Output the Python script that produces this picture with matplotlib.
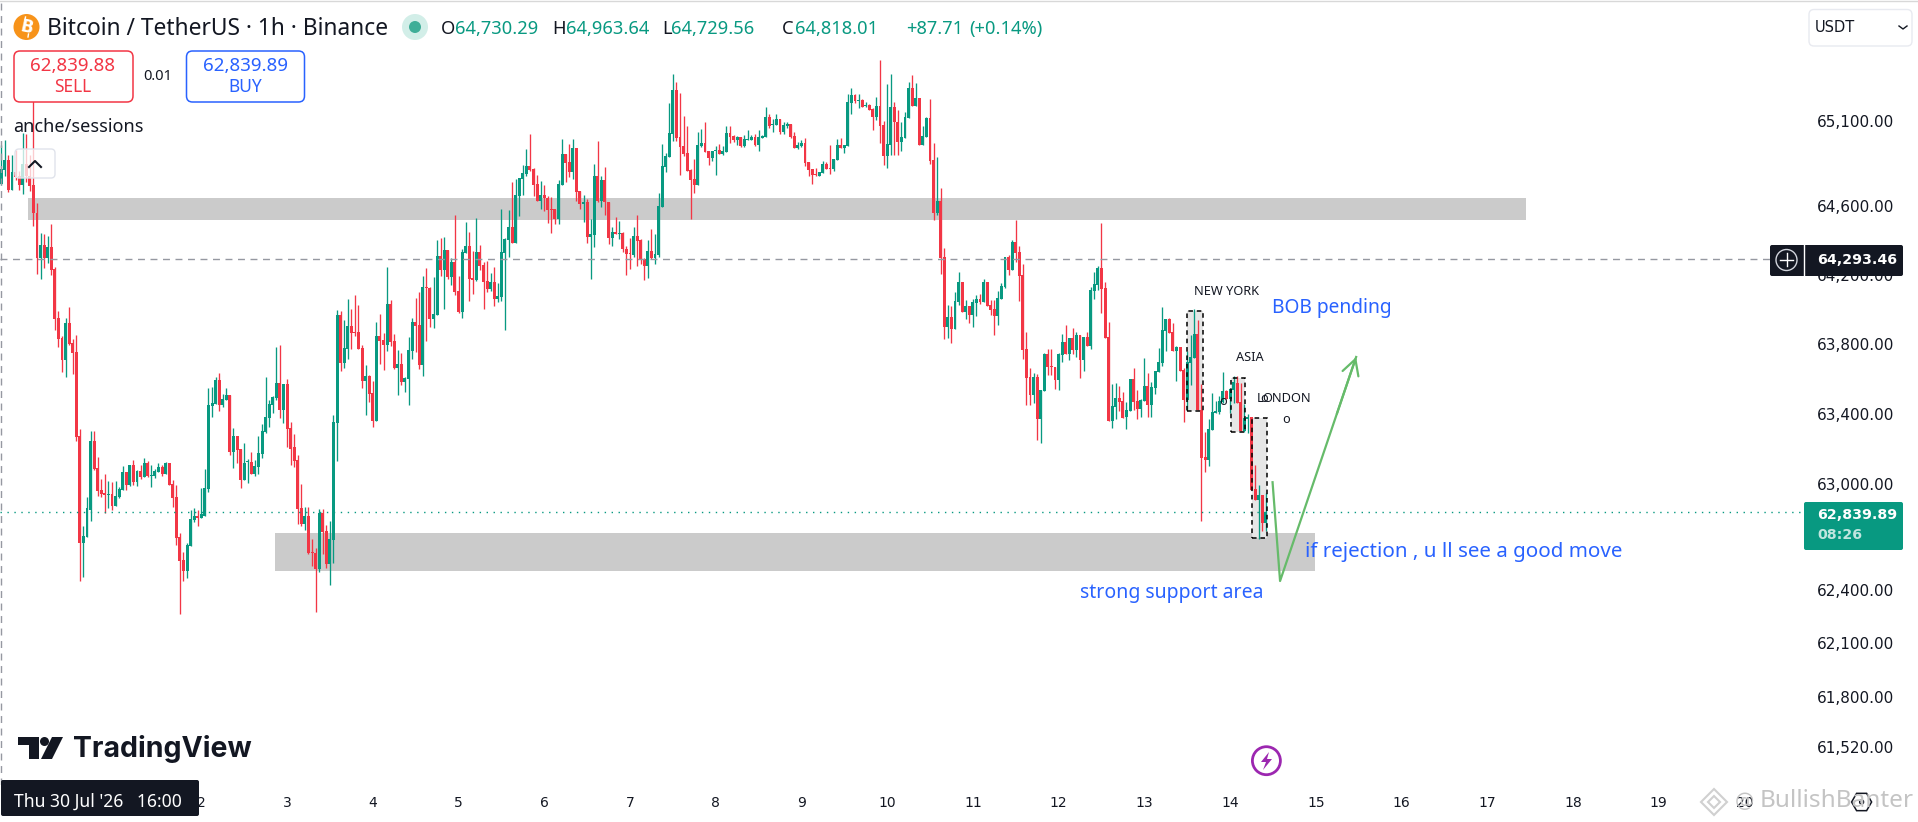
import numpy as np
import matplotlib
matplotlib.use('Agg')
import matplotlib.pyplot as plt
from matplotlib.patches import Rectangle, FancyBboxPatch, Circle, Polygon, RegularPolygon
from matplotlib.ticker import NullLocator

# hourly candles
opens = [
    64729, 64811, 64869, 64696, 64796, 64773, 64725, 64846, 64777, 64725, 64561, 64296, 64373, 64296, 64361, 64234, 63952, 63836, 63709, 63923,
    63807, 63756, 63271, 62665, 62700, 62855, 63242, 63092, 62965, 62948, 62936, 62942, 62873, 62925, 62965, 63069, 62994, 63109, 63011, 63075,
    63040, 63121, 63046, 63046, 63069, 63098, 63057, 63121, 63000, 62925, 62700, 62567, 62509, 62648, 62798, 62821, 62809, 62821, 62971, 63444,
    63456, 63594, 63450, 63479, 63507, 63184, 63271,
    63202, 63025, 63123, 63127, 63058, 63098, 63173, 63294, 63375, 63450, 63490, 63577, 63421, 63571, 63317, 63208, 63138, 62861, 62775, 62821,
    62613, 62608, 62521, 62833, 62735, 62544, 62683, 63346, 63969, 63692, 63773, 63906, 63871, 63871, 63779, 63588, 63617, 63519, 63358, 63848,
    63825, 63796, 64033, 63819, 63663, 63686, 63583, 63600, 63761, 63929, 63911, 63681, 64131, 64125, 63946, 63969, 64309, 64229, 64344, 64188,
    64275, 64108, 63986, 64327,
    64367, 64183, 64171, 64333, 64258, 64166, 64119, 64160, 64062, 64073, 64327, 64402, 64477, 64385, 64656, 64760, 64789, 64835, 64817, 64731,
    64627, 64662, 64644, 64581, 64581, 64523, 64725, 64904, 64858, 64800, 64939, 64685, 64610, 64621, 64419, 64431, 64777, 64627, 64754, 64621,
    64414, 64448, 64437, 64442, 64350, 64327, 64316, 64425, 64402, 64292, 64252, 64339, 64298, 64316, 64592, 64829, 64887, 65019, 65279, 65002,
    64950, 64910, 64812, 64760, 64725, 64950, 64967, 64921, 64881, 64921, 64927, 64904, 64916, 65025, 65008, 64985, 65002, 64950, 64985, 64985,
    65002, 64956, 64996, 65002, 65123, 65071, 65071, 65112, 65031, 65066, 65077, 65008, 64939, 64950, 64967, 64858, 64817, 64789, 64777, 64794,
    64846, 64823, 64817, 64869, 64956, 64939, 64950, 65204, 65250, 65216, 65221, 65187, 65192, 65169, 65123, 65187, 65071, 64892, 64956, 65181,
    65094, 64973, 64996, 65117, 65291, 65187, 65233, 64956, 65002, 65117, 64869, 64558, 64627, 64304, 63900,
    63958, 63888, 64044, 64160, 63986, 64021, 63969, 64038, 64061, 64044, 64160, 64027, 64004, 63963, 64061, 64131, 64304, 64229, 64390, 64333,
    64200, 63773, 63611, 63508, 63611, 63369, 63531, 63744, 63675, 63669, 63594, 63738, 63813, 63744, 63837, 63767, 63854, 63710, 63842, 63790,
    64108, 64142, 64240, 64125, 63842, 63358, 63438, 63490, 63473, 63381, 63415, 63600, 63473, 63427, 63473, 63560, 63450, 63548, 63640, 63692,
    63877,
    63946, 63871, 63762, 63785, 63652, 63479, 63692, 63721, 63860, 63421, 63156, 63139, 63306, 63404, 63410, 63467, 63531, 63485, 63537, 63577,
    63467, 63300, 63369, 63381, 62971, 62908, 62937, 62781,
]
closes = [
    64815, 64869, 64696, 64796, 64769, 64725, 64846, 64773, 64719, 64557, 64296, 64373, 64296, 64361, 64229, 63946, 63831, 63709, 63923, 63802,
    63750, 63265, 62665, 62706, 62861, 63242, 63086, 62959, 62942, 62936, 62942, 62873, 62931, 62971, 63069, 62994, 63109, 63011, 63075, 63040,
    63121, 63046, 63052, 63075, 63098, 63057, 63121, 62994, 62919, 62694, 62561, 62509, 62654, 62804, 62821, 62809, 62827, 62977, 63450, 63461,
    63594, 63450, 63484, 63507, 63184, 63271, 63196,
    63023, 63119, 63129, 63058, 63104, 63179, 63300, 63381, 63456, 63496, 63577, 63421, 63571, 63311, 63202, 63133, 62856, 62775, 62821, 62608,
    62608, 62521, 62833, 62729, 62544, 62688, 63352, 63969, 63692, 63779, 63906, 63865, 63865, 63773, 63588, 63617, 63513, 63358, 63848, 63819,
    63796, 64033, 63813, 63663, 63686, 63583, 63606, 63767, 63929, 63906, 63681, 64131, 64125, 63946, 63975, 64309, 64229, 64344, 64188, 64275,
    64102, 63986, 64333, 64367,
    64177, 64171, 64333, 64252, 64160, 64119, 64160, 64062, 64079, 64333, 64408, 64477, 64385, 64662, 64766, 64794, 64835, 64812, 64725, 64627,
    64662, 64644, 64575, 64575, 64523, 64731, 64904, 64852, 64800, 64939, 64679, 64610, 64621, 64419, 64437, 64777, 64627, 64754, 64621, 64414,
    64448, 64437, 64442, 64350, 64321, 64321, 64425, 64396, 64292, 64252, 64339, 64298, 64321, 64598, 64835, 64892, 65025, 65279, 64996, 64944,
    64904, 64806, 64754, 64725, 64956, 64967, 64916, 64881, 64921, 64927, 64904, 64921, 65025, 65002, 64985, 65002, 64950, 64991, 64991, 65002,
    64956, 65002, 65008, 65123, 65066, 65077, 65112, 65031, 65071, 65077, 65002, 64939, 64956, 64967, 64852, 64812, 64783, 64783, 64800, 64846,
    64817, 64817, 64875, 64956, 64939, 64956, 65210, 65250, 65216, 65221, 65181, 65192, 65164, 65123, 65187, 65066, 64892, 64962, 65181, 65089,
    64973, 65002, 65123, 65291, 65187, 65233, 64956, 65008, 65117, 64864, 64558, 64627, 64298, 63900, 63958,
    63888, 64050, 64160, 63986, 64021, 63969, 64044, 64061, 64044, 64160, 64021, 63998, 63963, 64067, 64136, 64304, 64229, 64390, 64327, 64194,
    63767, 63606, 63508, 63611, 63369, 63536, 63744, 63669, 63669, 63594, 63744, 63813, 63744, 63837, 63767, 63854, 63710, 63842, 63790, 64113,
    64148, 64240, 64119, 63837, 63358, 63444, 63490, 63467, 63375, 63421, 63600, 63467, 63427, 63479, 63560, 63450, 63554, 63646, 63698, 63883,
    63946,
    63865, 63762, 63785, 63646, 63479, 63698, 63727, 63860, 63421, 63150, 63139, 63312, 63410, 63416, 63473, 63531, 63485, 63542, 63583, 63462,
    63300, 63375, 63381, 62966, 62908, 62937, 62781, 62840,
]
highs = [
    64955, 64984, 64898, 64898, 64930, 64802, 65025, 65023, 64898, 65215, 64615, 64442, 64436, 64425, 64494, 64246, 63992, 63848, 63952, 64015,
    63831, 63854, 63311, 62763, 62925, 63300, 63300, 63156, 63029, 63057, 63017, 63011, 63017, 62982, 63104, 63069, 63109, 63138, 63081, 63109,
    63150, 63132, 63109, 63086, 63121, 63109, 63127, 63121, 63023, 62994, 62723, 62613, 62665, 62855, 62861, 62855, 62977, 63086, 63548, 63554,
    63611, 63634, 63513, 63548, 63507, 63317, 63271,
    63202, 63231, 63142, 63184, 63138, 63271, 63340, 63611, 63479, 63502, 63784, 63796, 63571, 63600, 63352, 63283, 63167, 63000, 62867, 62867,
    62688, 62636, 62856, 62856, 62769, 62792, 63392, 63998, 63992, 63940, 64061, 64004, 64084, 64027, 63796, 63681, 63623, 63588, 63929, 63975,
    63865, 64246, 64056, 63859, 63767, 63750, 63611, 63842, 63952, 64067, 64102, 64194, 64240, 64131, 64188, 64402, 64413, 64419, 64344, 64298,
    64546, 64194, 64350, 64506,
    64448, 64338, 64529, 64373, 64275, 64281, 64212, 64246, 64154, 64581, 64414, 64575, 64743, 64760, 64766, 64841, 64933, 65019, 64823, 64783,
    64748, 64725, 64656, 64650, 64581, 64754, 64991, 64904, 64962, 64991, 64939, 64685, 64662, 64639, 64523, 64846, 64979, 64777, 64829, 64621,
    64477, 64535, 64512, 64448, 64367, 64414, 64477, 64546, 64408, 64298, 64402, 64466, 64437, 64673, 64962, 64910, 65204, 65377, 65325, 65262,
    65129, 65066, 64817, 64875, 65031, 65048, 65094, 64921, 64921, 64950, 64962, 64950, 65066, 65066, 65014, 65008, 65002, 65014, 65042, 65014,
    65019, 65042, 65014, 65181, 65141, 65112, 65141, 65112, 65089, 65094, 65077, 65031, 64973, 64985, 64996, 64858, 64817, 64823, 64800, 64864,
    64858, 64956, 64875, 64991, 64996, 64956, 65256, 65291, 65256, 65256, 65227, 65210, 65198, 65175, 65239, 65458, 65100, 65314, 65377, 65210,
    65164, 65094, 65152, 65325, 65366, 65319, 65233, 65066, 65123, 65227, 64967, 64887, 64708, 64356, 64027,
    64021, 64102, 64217, 64160, 64056, 64021, 64061, 64085, 64090, 64177, 64160, 64056, 64056, 64108, 64154, 64304, 64315, 64402, 64517, 64367,
    64263, 63871, 63663, 63635, 63629, 63536, 63750, 63773, 63773, 63669, 63750, 63860, 63911, 63837, 63894, 63871, 63854, 63842, 63871, 64131,
    64217, 64252, 64500, 64160, 63929, 63571, 63577, 63560, 63525, 63467, 63600, 63663, 63536, 63485, 63721, 63635, 63583, 63646, 63779, 64015,
    63946,
    63952, 63923, 63790, 63785, 63664, 63762, 63854, 64004, 63940, 63571, 63294, 63369, 63519, 63473, 63502, 63640, 63537, 63548, 63617, 63617,
    63577, 63456, 63398, 63381, 63110, 62994, 62937, 62948,
]
lows = [
    64725, 64773, 64684, 64696, 64750, 64696, 64669, 64738, 64690, 64484, 64205, 64177, 64240, 64269, 64200, 63882, 63784, 63640, 63611, 63796,
    63629, 63242, 62452, 62475, 62700, 62792, 63081, 62931, 62925, 62838, 62861, 62855, 62873, 62919, 62965, 62965, 62988, 62994, 62988, 63029,
    63040, 63040, 62982, 63034, 63069, 63046, 63057, 62994, 62867, 62654, 62267, 62452, 62469, 62648, 62786, 62763, 62809, 62821, 62954, 63380,
    63456, 63415, 63438, 63479, 63167, 63092, 63121,
    62979, 63023, 63006, 63058, 63048, 63058, 63150, 63288, 63323, 63404, 63479, 63375, 63346, 63208, 63110, 63098, 62775, 62763, 62740, 62602,
    62538, 62279, 62504, 62602, 62527, 62429, 62550, 63133, 63646, 63663, 63715, 63773, 63848, 63773, 63548, 63392, 63467, 63323, 63358, 63686,
    63652, 63761, 63790, 63658, 63508, 63565, 63525, 63450, 63715, 63756, 63658, 63617, 63819, 63900, 63894, 63969, 64194, 64004, 64177, 64142,
    64084, 63981, 63952, 64327,
    64050, 64091, 64166, 64229, 64000, 64102, 64108, 64021, 64044, 64050, 63883, 64304, 64385, 64385, 64541, 64667, 64777, 64806, 64656, 64627,
    64581, 64569, 64500, 64443, 64494, 64494, 64725, 64742, 64771, 64760, 64627, 64581, 64506, 64385, 64177, 64362, 64621, 64592, 64546, 64379,
    64367, 64437, 64408, 64333, 64200, 64235, 64304, 64252, 64264, 64171, 64183, 64292, 64264, 64304, 64592, 64800, 64887, 64979, 64979, 64783,
    64892, 64806, 64523, 64673, 64725, 64944, 64916, 64841, 64864, 64783, 64904, 64898, 64916, 64967, 64973, 64956, 64944, 64944, 64985, 64985,
    64950, 64921, 64996, 65002, 65054, 65031, 65071, 65019, 65019, 65054, 64996, 64939, 64933, 64944, 64835, 64777, 64731, 64777, 64777, 64794,
    64817, 64789, 64806, 64869, 64939, 64910, 64950, 65141, 65204, 65175, 65181, 65181, 65164, 65042, 65106, 64967, 64841, 64823, 64898, 64898,
    64898, 64921, 64996, 65117, 65187, 65187, 64956, 64956, 65002, 64846, 64517, 64546, 64206, 63831, 63837,
    63808, 63888, 64027, 63986, 63946, 63923, 63900, 63963, 64033, 64044, 64021, 63969, 63854, 63911, 64061, 64125, 64200, 64229, 64275, 64050,
    63715, 63450, 63450, 63461, 63248, 63236, 63531, 63623, 63623, 63542, 63536, 63698, 63744, 63710, 63744, 63727, 63606, 63646, 63790, 63773,
    64061, 64113, 63981, 63837, 63358, 63317, 63369, 63415, 63375, 63311, 63415, 63421, 63369, 63381, 63473, 63381, 63381, 63513, 63640, 63675,
    63761,
    63865, 63762, 63589, 63646, 63352, 63421, 63565, 63721, 63421, 62792, 63069, 63104, 63306, 63404, 63398, 63462, 63485, 63404, 63462, 63462,
    63300, 63294, 63289, 62966, 62908, 62689, 62735, 62735,
]

day_labels = [str(d) for d in range(2, 21)]
day_positions = [56 + 24 * k for k in range(len(day_labels))]
price_ticks = [65100, 64600, 64200, 63800, 63400, 63000, 62400, 62100, 61800, 61520]
crosshair_price = 64293.46
last_price = 62839.89

up_col = '#089981'
down_col = '#f23645'
blue = '#2962ff'
ink = '#131722'

plt.rcParams['font.family'] = ['DejaVu Sans']

fig = plt.figure(figsize=(19.18, 8.22), dpi=100)
ax = fig.add_axes([0, 37 / 822, 1808 / 1918, 785 / 822])
ax.set_yscale('log')
ax.set_ylim(61312, 65812)
ax.set_xlim(-0.364, 505.8)

idx = np.arange(len(opens))
o = np.array(opens, dtype=float)
c = np.array(closes, dtype=float)
colors = [up_col if a >= b else down_col for a, b in zip(c, o)]

# zones under the candles
ax.add_patch(Rectangle((7.47, 64518), 419.3, 129, color='#cbcbcb', lw=0, zorder=1))
ax.add_patch(Rectangle((76.6, 62507), 291.2, 215, color='#cbcbcb', lw=0, zorder=1))

sessions = [(332.0, 336.3, 63416, 63993), (344.2, 348.1, 63296, 63607), (350.2, 354.3, 62694, 63375)]
for x0, x1, lo, hi in sessions:
    ax.add_patch(Rectangle((x0, lo), x1 - x0, hi - lo, facecolor='#e6e6e6', lw=0, zorder=1.5))

ax.vlines(idx, lows, highs, colors=colors, lw=0.95, zorder=3)
ax.bar(idx, np.abs(c - o), bottom=np.minimum(o, c), width=0.82, color=colors, lw=0, zorder=3.2)

for x0, x1, lo, hi in sessions:
    ax.add_patch(Rectangle((x0, lo), x1 - x0, hi - lo, fill=False, ec='black', lw=1.1, ls=(0, (3, 2.5)), zorder=4))

ax.axhline(crosshair_price, xmax=1770 / 1808, color='#9598a1', lw=1, ls=(0, (5, 4)), zorder=3.5)
ax.axhline(last_price, color=up_col, lw=1, ls=(0, (1, 4)), zorder=3.5)
ax.axvline(0.0, color='#9598a1', lw=1, ls=(0, (5, 4)), zorder=3.5)

# hand drawn move
ax.plot([355.9, 358.0, 379.3], [63010, 62451, 63726], color='#66bb6a', lw=1.6, zorder=5)
ax.annotate('', xy=(379.3, 63726), xytext=(373.9, 63400),
            arrowprops=dict(arrowstyle='->,head_length=0.55,head_width=0.3', color='#66bb6a', lw=1.6,
                            mutation_scale=20, shrinkA=0, shrinkB=0), zorder=5)

for s in ax.spines.values():
    s.set_visible(False)
ax.yaxis.tick_right()
ax.set_yticks(price_ticks, [f'{p:,.2f}' for p in price_ticks])
ax.yaxis.set_minor_locator(NullLocator())
ax.set_xticks(day_positions, day_labels)
ax.tick_params(axis='y', length=0, pad=6.5, labelsize=11, labelcolor=ink)
ax.tick_params(axis='x', length=0, pad=8, labelsize=10, labelcolor=ink)

# everything else sits on a pixel overlay
ui = fig.add_axes([0, 0, 1, 1], zorder=10)
ui.set_xlim(0, 1918)
ui.set_ylim(822, 0)
ui.axis('off')
ui.patch.set_alpha(0)

ui.plot([0, 1918], [1, 1], color='#d8d8d8', lw=1)

# header
ui.add_patch(Circle((26.5, 27), 13, color='#f7931a', lw=0))
ui.text(26.5, 27, 'B', color='white', fontsize=12, fontweight='bold', rotation=-12, ha='center', va='center')
ui.plot([25.5, 25], [17, 20], color='white', lw=1)
ui.plot([28.5, 28], [34, 37], color='white', lw=1)
ui.text(47, 29, 'Bitcoin / TetherUS \u00b7 1h \u00b7 Binance', color=ink, fontsize=16.4, family='Noto Sans', va='center')
ui.add_patch(Circle((415, 27), 13, color='#d2eee8', lw=0))
ui.add_patch(Circle((415, 27), 6, color='#3fae98', lw=0))

header_bits = [(441, 'O', ink), (455, '64,730.29', up_col), (552, 'H', ink), (566, '64,963.64', up_col),
               (662, 'L', ink), (671, '64,729.56', up_col), (782, 'C', ink), (795, '64,818.01', up_col),
               (906, '+87.71', up_col), (969, '(+0.14%)', up_col)]
for x, s, col in header_bits:
    ui.text(x, 29, s, color=col, fontsize=13.2, family='Noto Sans', va='center')

# sell / buy
ui.add_patch(FancyBboxPatch((14, 51), 119, 51, boxstyle='round,pad=0,rounding_size=6', fc='white', ec=down_col, lw=1.1))
ui.text(73, 66, '62,839.88', color=down_col, fontsize=13.5, fontweight='bold', family='Noto Sans', ha='center', va='center')
ui.text(73, 87, 'SELL', color=down_col, fontsize=12.5, family='Noto Sans', ha='center', va='center')
ui.text(158, 77, '0.01', color=ink, fontsize=10.5, family='Noto Sans', ha='center', va='center')
ui.add_patch(FancyBboxPatch((186.5, 51), 118, 51, boxstyle='round,pad=0,rounding_size=6', fc='white', ec=blue, lw=1.1))
ui.text(245, 66, '62,839.89', color=blue, fontsize=13.5, fontweight='bold', family='Noto Sans', ha='center', va='center')
ui.text(245, 87, 'BUY', color=blue, fontsize=12.5, family='Noto Sans', ha='center', va='center')

ui.text(13.5, 127, 'anche/sessions', color=ink, fontsize=13, family='Noto Sans', va='center')
ui.add_patch(FancyBboxPatch((15, 149), 40, 29, boxstyle='round,pad=0,rounding_size=4', fc=(1, 1, 1, 0.75), ec='#e0e3eb', lw=1))
ui.plot([29, 35, 41], [167, 161, 167], color=ink, lw=1.5)

# currency box
ui.add_patch(FancyBboxPatch((1809, 9.5), 103, 36.5, boxstyle='round,pad=0,rounding_size=5', fc='white', ec='#e8eaf0', lw=1))
ui.text(1815, 27, 'USDT', color=ink, fontsize=10.5, va='center')
ui.plot([1899, 1903, 1907], [26, 29, 26], color=ink, lw=1)

# chart notes
for x, y, s in [(1194, 291, 'NEW YORK'), (1236, 357, 'ASIA'), (1257, 398, 'L'), (1262, 398, 'ONDON'),
                (1260, 398, 'o'), (1282, 419, 'o'), (1219, 401, 'o')]:
    ui.text(x, y, s, color=ink, fontsize=9.2, family='Noto Sans', va='center')
ui.text(1272, 308, 'BOB pending', color=blue, fontsize=13.8, family='Noto Sans', va='center')
ui.text(1305, 552, 'if rejection , u ll see a good move', color=blue, fontsize=14.8, family='Noto Sans', va='center')
ui.text(1080, 593, 'strong support area', color=blue, fontsize=14, family='Noto Sans', va='center')

# price tags
ui.add_patch(FancyBboxPatch((1770, 245), 133, 31, boxstyle='round,pad=0,rounding_size=2', fc=ink, lw=0))
ui.plot([1803.7, 1803.7], [245, 276], color='white', lw=1)
ui.add_patch(Circle((1786.5, 260), 10.5, fc='none', ec='#d1d4dc', lw=1))
ui.plot([1780, 1793], [260, 260], color='white', lw=1)
ui.plot([1786.5, 1786.5], [253.5, 266.5], color='white', lw=1)
ui.text(1817, 260, '64,293.46', color='white', fontsize=10.2, fontweight='bold', va='center')
ui.add_patch(FancyBboxPatch((1804, 502), 99, 48, boxstyle='round,pad=0,rounding_size=2', fc=up_col, lw=0))
ui.text(1817, 515, '62,839.89', color='white', fontsize=10.2, fontweight='bold', va='center')
ui.text(1817, 535, '08:26', color='white', alpha=0.75, fontsize=10.2, fontweight='bold', va='center')

# logo
ui.add_patch(Polygon([(18, 737), (39, 737), (39, 759), (29, 759), (29, 745), (18, 745)], color=ink, lw=0))
ui.add_patch(Circle((44.5, 741.5), 4.5, color=ink, lw=0))
ui.add_patch(Polygon([(52, 737), (63, 737), (52, 759), (41, 759)], color=ink, lw=0))
ui.text(73, 749, 'TradingView', color=ink, fontsize=20.5, fontweight='bold', family='Inter', va='center')

# lightning
ui.add_patch(Circle((1266.4, 760.7), 14, fc='white', ec='#9c27b0', lw=2))
ui.add_patch(Polygon([(1269, 752), (1261, 762), (1266, 762), (1263, 770), (1272, 759), (1267, 759)], color='#9c27b0', lw=0))

# date tag
ui.add_patch(FancyBboxPatch((1, 780), 198, 36, boxstyle='round,pad=0,rounding_size=2', fc=ink, lw=0))
ui.text(14, 802, "Thu 30 Jul '26   16:00", color='white', fontsize=12.6, family='Noto Sans', va='center')

# watermark and the settings glyph
ui.add_patch(RegularPolygon((1714, 802), 4, radius=13, fc='none', ec='#d0d0d0', lw=1.5))
ui.add_patch(RegularPolygon((1714, 802), 4, radius=6, fc='none', ec='#d0d0d0', lw=1.5))
ui.text(1745, 801, '@', color='#c4c4c4', fontsize=14, ha='center', va='center')
ui.text(1760, 801, 'BullishBanter', color='#c4c4c4', fontsize=17.5, family='Noto Sans', va='center')
ui.add_patch(RegularPolygon((1861.6, 802), 6, radius=10, orientation=np.pi / 2, fc='none', ec=ink, lw=1.1))
ui.add_patch(Circle((1861.6, 802), 2, fc='none', ec=ink, lw=1))

fig.savefig('out.png', dpi=100)
